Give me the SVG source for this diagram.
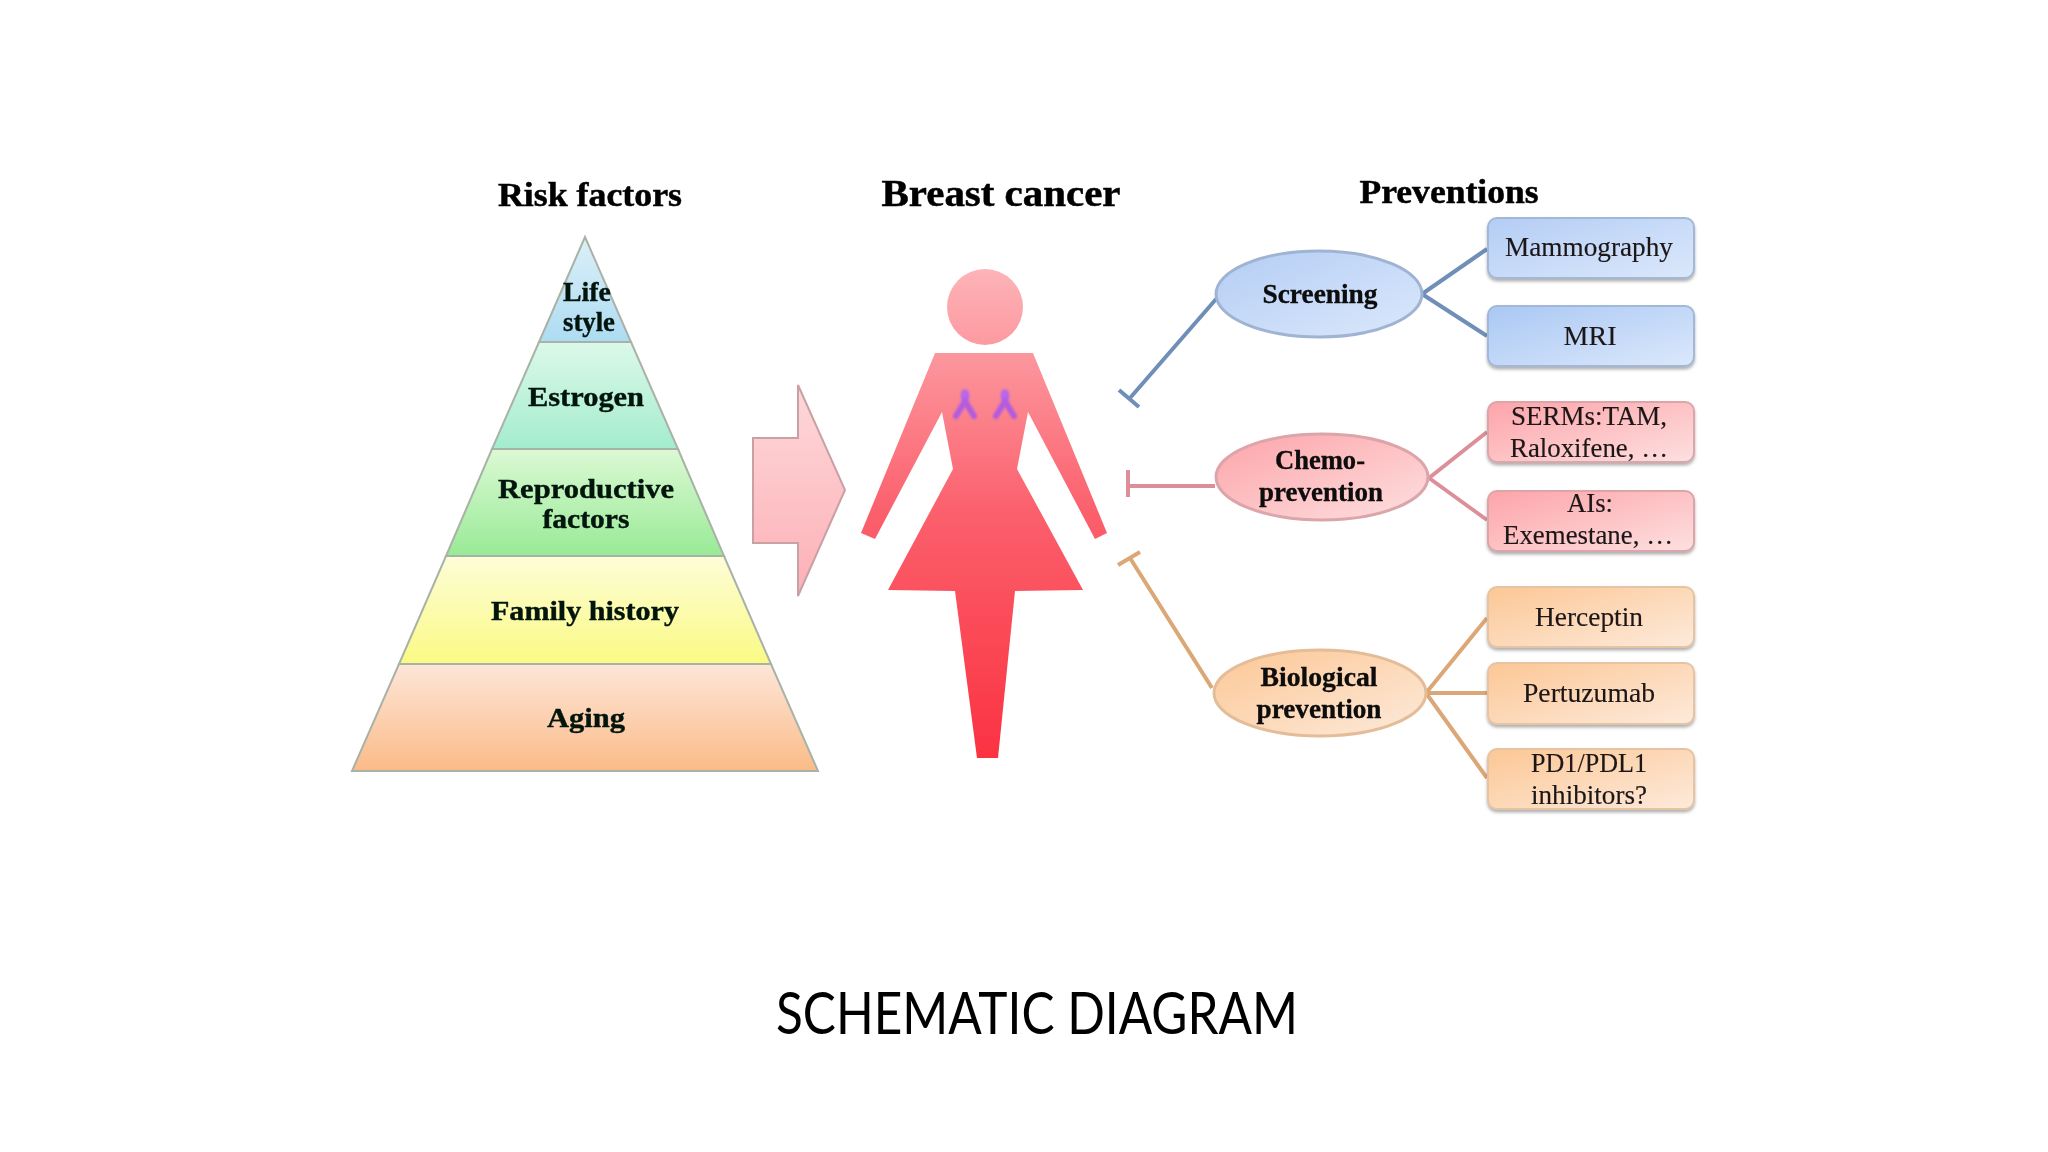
<svg xmlns="http://www.w3.org/2000/svg" width="2048" height="1152" viewBox="0 0 2048 1152">
<defs>
<style>
text{text-anchor:middle;font-family:"Liberation Serif","Times New Roman",serif;fill:#0c0c0c}
.h{font-weight:bold;fill:#000;stroke:#000;stroke-width:.5}
.l{font-size:28px;font-weight:bold;fill:#06140f;stroke:#06140f;stroke-width:.4}
.e{font-size:27px;font-weight:bold;fill:#0a0a0a;stroke:#0a0a0a;stroke-width:.3}
.t{font-size:28px;fill:#1c1618;stroke:#1c1618;stroke-width:.15}
.seg{stroke:#a9b2a6;stroke-width:2}
.box{stroke-width:2}
.bl{stroke:#6f8fb8;fill:none;stroke-width:4}
.rd{stroke:#dc8f98;fill:none;stroke-width:4}
.or{stroke:#dca777;fill:none;stroke-width:4}
</style>
<linearGradient id="g1" x1="0" y1="0" x2="0" y2="1"><stop offset="0" stop-color="#dcf0f8"/><stop offset="1" stop-color="#addcf2"/></linearGradient>
<linearGradient id="g2" x1="0" y1="0" x2="0" y2="1"><stop offset="0" stop-color="#dcf9e9"/><stop offset="1" stop-color="#a4ecce"/></linearGradient>
<linearGradient id="g3" x1="0" y1="0" x2="0" y2="1"><stop offset="0" stop-color="#dcf9d4"/><stop offset="1" stop-color="#98ea96"/></linearGradient>
<linearGradient id="g4" x1="0" y1="0" x2="0" y2="1"><stop offset="0" stop-color="#fdfdd8"/><stop offset="1" stop-color="#fafa84"/></linearGradient>
<linearGradient id="g5" x1="0" y1="0" x2="0" y2="1"><stop offset="0" stop-color="#fde6d8"/><stop offset="1" stop-color="#fbbb88"/></linearGradient>
<linearGradient id="ga" x1="0" y1="0" x2="0" y2="1"><stop offset="0" stop-color="#fdd8da"/><stop offset="1" stop-color="#fdb0b6"/></linearGradient>
<linearGradient id="gw" gradientUnits="userSpaceOnUse" x1="985" y1="269" x2="985" y2="760"><stop offset="0" stop-color="#fdb4b8"/><stop offset="0.5" stop-color="#fb5f6c"/><stop offset="1" stop-color="#fb3241"/></linearGradient>
<linearGradient id="bb" x1="0" y1="0" x2="1" y2="1"><stop offset="0" stop-color="#aac8f4"/><stop offset="1" stop-color="#dbe8fb"/></linearGradient>
<linearGradient id="bb2" x1="0" y1="0" x2="1" y2="1"><stop offset="0" stop-color="#b4cdf5"/><stop offset="1" stop-color="#dbe8fb"/></linearGradient>
<linearGradient id="rb" x1="0" y1="0" x2="1" y2="1"><stop offset="0" stop-color="#fda4a9"/><stop offset="1" stop-color="#fde0e0"/></linearGradient>
<linearGradient id="ob" x1="0" y1="0" x2="1" y2="1"><stop offset="0" stop-color="#fcc795"/><stop offset="1" stop-color="#fdeadb"/></linearGradient>
<filter id="soft" x="-5%" y="-5%" width="110%" height="110%"><feGaussianBlur stdDeviation="0.55"/></filter>
<filter id="rib" x="-30%" y="-30%" width="160%" height="160%"><feGaussianBlur stdDeviation="1.2"/></filter>
<filter id="sh" x="-10%" y="-20%" width="120%" height="140%"><feDropShadow dx="0" dy="2.5" stdDeviation="1.5" flood-color="#555" flood-opacity="0.45"/></filter>
<g id="ribbon" filter="url(#rib)"><ellipse cx="0" cy="-9" rx="4.5" ry="7" fill="#b868e8"/><path d="M0-4L-9 11M0-4L9 11" fill="none" stroke="#b25ce0" stroke-width="6" stroke-linecap="round"/></g>
</defs>
<rect width="2048" height="1152" fill="#fff"/>
<g filter="url(#soft)">
<g id="heading-risk"><text class="h" x="590" y="206" font-size="33" textLength="184" lengthAdjust="spacingAndGlyphs">Risk factors</text></g>
<g id="heading-cancer"><text class="h" x="1001" y="206" font-size="38" textLength="239" lengthAdjust="spacingAndGlyphs">Breast cancer</text></g>
<g id="heading-prevention"><text class="h" x="1449" y="203" font-size="33" textLength="179" lengthAdjust="spacingAndGlyphs">Preventions</text></g>
<g id="pyramid">
<g id="seg-life"><polygon class="seg" points="585,237 631,342 539,342" fill="url(#g1)"/><text class="l" x="587" y="301" textLength="48" lengthAdjust="spacingAndGlyphs">Life</text><text class="l" x="589" y="331" textLength="52" lengthAdjust="spacingAndGlyphs">style</text></g>
<g id="seg-estrogen"><polygon class="seg" points="539,342 631,342 678,449 492,449" fill="url(#g2)"/><text class="l" x="586" y="406" textLength="116" lengthAdjust="spacingAndGlyphs">Estrogen</text></g>
<g id="seg-repro"><polygon class="seg" points="492,449 678,449 724,556 446,556" fill="url(#g3)"/><text class="l" x="586" y="498" textLength="176" lengthAdjust="spacingAndGlyphs">Reproductive</text><text class="l" x="586" y="528" textLength="87" lengthAdjust="spacingAndGlyphs">factors</text></g>
<g id="seg-family"><polygon class="seg" points="446,556 724,556 771,664 399,664" fill="url(#g4)"/><text class="l" x="585" y="620" textLength="188" lengthAdjust="spacingAndGlyphs">Family history</text></g>
<g id="seg-aging"><polygon class="seg" points="399,664 771,664 818,771 352,771" fill="url(#g5)"/><text class="l" x="586" y="727" textLength="78" lengthAdjust="spacingAndGlyphs">Aging</text></g>
</g>
<g id="arrow"><polygon points="753,438 798,438 798,385 845,490 798,596 798,543 753,543" fill="url(#ga)" stroke="#c9a0a4" stroke-width="2"/></g>
<g id="woman">
<ellipse cx="985" cy="307" rx="38" ry="38" fill="url(#gw)"/>
<polygon points="935,353 1033,353 1107,533 1095,539 1028,412 1017,469 1083,590 1015,591 998,758 977,758 955,591 888,590 953,469 942,412 875,539 861,533" fill="url(#gw)"/>
<use href="#ribbon" x="965" y="405"/><use href="#ribbon" x="1005" y="405"/>
</g>
<g id="connectors">
<path class="bl" d="M1217 298L1130 398M1119 390L1139 407M1422 294L1487 249M1422 294L1487 336"/>
<path class="rd" d="M1215 486H1128M1128 470V497M1429 478L1487 432M1429 478L1487 520"/>
<path class="or" d="M1212 688L1130 558M1118 565L1140 552M1426 693L1487 618M1426 693H1487M1426 693L1487 778"/>
</g>
<g id="screening"><ellipse cx="1319" cy="294" rx="103" ry="43" fill="url(#bb2)" stroke="#9fb4d2" stroke-width="3"/><text class="e" x="1320" y="303" textLength="115" lengthAdjust="spacingAndGlyphs">Screening</text></g>
<g id="chemo"><ellipse cx="1322" cy="477" rx="106" ry="43" fill="url(#rb)" stroke="#dba5aa" stroke-width="3"/><text class="e" x="1320" y="469" textLength="90" lengthAdjust="spacingAndGlyphs">Chemo-</text><text class="e" x="1321" y="501" textLength="124" lengthAdjust="spacingAndGlyphs">prevention</text></g>
<g id="biological"><ellipse cx="1320" cy="693" rx="106" ry="43" fill="url(#ob)" stroke="#e4bd98" stroke-width="3"/><text class="e" x="1319" y="686" textLength="117" lengthAdjust="spacingAndGlyphs">Biological</text><text class="e" x="1319" y="718" textLength="125" lengthAdjust="spacingAndGlyphs">prevention</text></g>
<g id="mammography"><rect class="box" x="1488" y="218" width="206" height="60" rx="9" fill="url(#bb2)" stroke="#a3b8d6" filter="url(#sh)"/><text class="t" x="1589" y="256" textLength="168" lengthAdjust="spacingAndGlyphs">Mammography</text></g>
<g id="mri"><rect class="box" x="1488" y="306" width="206" height="60" rx="9" fill="url(#bb)" stroke="#a3b8d6" filter="url(#sh)"/><text class="t" x="1590" y="345" textLength="53" lengthAdjust="spacingAndGlyphs">MRI</text></g>
<g id="serms"><rect class="box" x="1488" y="402" width="206" height="60" rx="9" fill="url(#rb)" stroke="#dba5aa" filter="url(#sh)"/><text class="t" x="1589" y="425" textLength="156" lengthAdjust="spacingAndGlyphs">SERMs:TAM,</text><text class="t" x="1589" y="457" textLength="158" lengthAdjust="spacingAndGlyphs">Raloxifene, …</text></g>
<g id="ais"><rect class="box" x="1488" y="491" width="206" height="60" rx="9" fill="url(#rb)" stroke="#dba5aa" filter="url(#sh)"/><text class="t" x="1590" y="512" textLength="46" lengthAdjust="spacingAndGlyphs">AIs:</text><text class="t" x="1588" y="544" textLength="170" lengthAdjust="spacingAndGlyphs">Exemestane, …</text></g>
<g id="herceptin"><rect class="box" x="1488" y="587" width="206" height="60" rx="9" fill="url(#ob)" stroke="#e6c3a2" filter="url(#sh)"/><text class="t" x="1589" y="626" textLength="108" lengthAdjust="spacingAndGlyphs">Herceptin</text></g>
<g id="pertuzumab"><rect class="box" x="1488" y="663" width="206" height="61" rx="9" fill="url(#ob)" stroke="#e6c3a2" filter="url(#sh)"/><text class="t" x="1589" y="702" textLength="132" lengthAdjust="spacingAndGlyphs">Pertuzumab</text></g>
<g id="pd1"><rect class="box" x="1488" y="749" width="206" height="60" rx="9" fill="url(#ob)" stroke="#e6c3a2" filter="url(#sh)"/><text class="t" x="1589" y="772" textLength="116" lengthAdjust="spacingAndGlyphs">PD1/PDL1</text><text class="t" x="1589" y="804" textLength="116" lengthAdjust="spacingAndGlyphs">inhibitors?</text></g>
</g>
<g id="caption"><text x="1037" y="1034" font-size="58" textLength="522" lengthAdjust="spacingAndGlyphs" style="font-family:Lato,'Noto Sans',sans-serif;fill:#000">SCHEMATIC DIAGRAM</text></g>
</svg>
